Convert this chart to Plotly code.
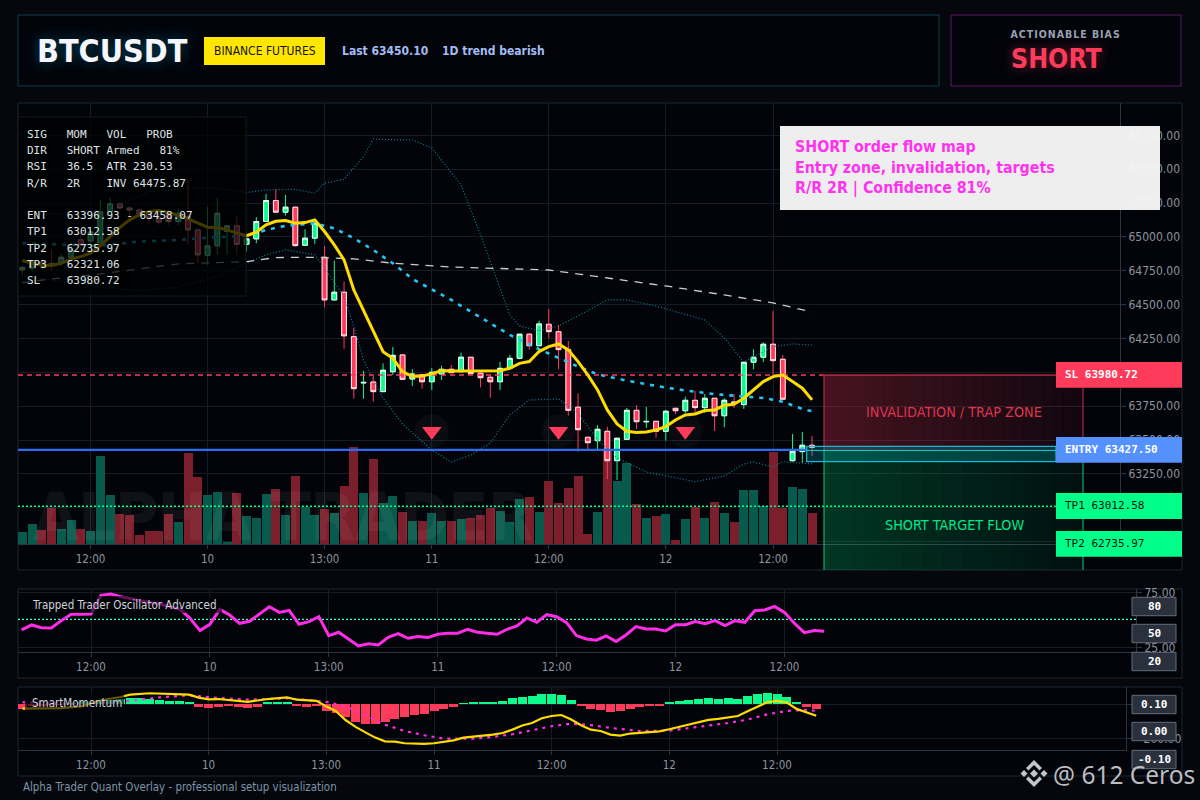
import plotly.graph_objects as go

# ---------- data ----------
open_ = [64757,64771,64815,64805,64806,64850,64978,64970,64956,65187,65244,65214,65199,65170,65140,65175,65114,
         65151,65052,64865,64934,65040,65082,64946,64986,65114,65269,65183,65220,64939,64991,64850,64535,64592,
         64264,63922,63929,63858,64005,64129,63951,63983,63931,63988,64023,64005,64112,63994,63964,63931,64030,
         64104,64282,64197,64355,64301,64168,63743,63521,63496,63565,63348,63506,63720,63635,63639,63565,63735,
         63717,63794,63740,63809,63680,63782,63762,64075,64112,64208,64097,63348,63415,63462]
high = [64785,64830,64840,64911,64870,64960,65050,65060,65273,65288,65255,65222,65210,65190,65180,65200,65212,
        65421,65052,65224,65286,65082,65155,65015,65146,65318,65352,65311,65220,65057,65126,64934,64826,64671,
        64328,64011,63974,64067,64188,64129,64025,63988,64033,64050,64055,64146,64112,64011,63988,64079,64129,
        64282,64289,64382,64468,64350,64232,63846,63521,63612,63599,63514,63737,63759,63745,63639,63723,63735,
        63821,63863,63841,63809,63809,63841,64075,64171,64222,64454,64129,63545,63560,63531]
low = [64720,64750,64770,64750,64790,64830,64900,64920,64930,65187,65205,65140,65150,65100,65090,65089,65089,
       64941,64806,64794,64868,64868,64868,64892,64954,65114,65183,65158,64929,64939,64949,64481,64535,64175,
       63806,63806,63784,63858,63981,63944,63900,63880,63870,63944,63998,64005,63991,63890,63813,63870,64018,
       64097,64166,64197,64252,64023,63680,63415,63432,63432,63213,63206,63506,63582,63590,63518,63496,63693,
       63698,63700,63700,63567,63595,63737,63730,64023,64075,63981,63802,63341,63333,63383]
close = [64775,64815,64793,64790,64850,64904,64941,65037,65185,65244,65214,65199,65170,65140,65110,65114,65175,
         65052,64868,64934,65175,65082,64946,64986,65114,65269,65183,65220,64936,64991,65101,64535,64592,64270,
         63880,63926,63858,64016,64126,63949,63988,63931,64001,64023,63998,64112,63991,63961,63931,64030,64104,
         64282,64197,64358,64301,64168,63720,63577,63481,63580,63348,63514,63720,63636,63638,63565,63713,63717,
         63794,63740,63809,63680,63794,63772,64075,64112,64208,64087,63802,63418,63462,63447]
volume = [36,60,42,108,45,72,45,39,264,147,90,87,27,39,39,90,66,273,201,147,156,6,153,84,78,150,165,87,204,111,
          87,105,93,174,291,153,255,123,144,97,70,70,94,70,70,76,79,88,109,100,67,136,142,97,190,124,169,205,31,
          97,286,190,244,121,79,85,91,13,76,112,79,127,94,67,163,163,115,277,109,172,166,94]
ma_fast = [64826,64806,64789,64789,64806,64836,64855,64880,64934,65003,65069,65126,65163,65188,65195,65180,65160,
           65133,65101,65072,65069,65052,65028,65010,65035,65089,65116,65121,65101,65106,65126,65040,64941,64831,
           64609,64461,64302,64153,64104,64006,63969,63974,63989,64013,64011,64011,64011,64011,64011,64013,64030,
           64067,64080,64154,64190,64210,64166,64080,63981,63871,63723,63620,63565,63556,63560,63575,63600,63649,
           63686,63693,63718,63723,63757,63765,63809,63871,63932,63969,63981,63932,63883,63797]
ema_idx = [0,4,8,12,16,20,23,25,27,30,32,34,36,38,40,44,47,50,53,55,57,59,62,65,68,71,74,76,78,80,81]
ema_val = [64954,64946,64936,64966,64978,64998,65008,65052,65082,65101,65064,64991,64904,64806,64690,64535,64407,
           64277,64171,64104,64043,63986,63939,63900,63866,63839,63821,63811,63784,63730,63713]
slow_idx = [0,3,8,16,23,26,30,34,38,44,54,60,66,72,77,81]
slow_val = [64663,64690,64727,64801,64818,64848,64850,64838,64806,64778,64756,64697,64638,64572,64513,64446]
upper_idx = [0,6,8,11,13,17,20,23,25,28,30,31,33,35,36,40,42,45,47,48,50,51,53,55,57,60,62,65,70,72,74,77,79,81]
upper_val = [65175,65163,65205,65274,65335,65360,65360,65328,65347,65352,65323,65397,65426,65594,65722,65716,65657,
             65384,65015,64815,64424,64343,64306,64343,64417,64535,64535,64490,64387,64254,64077,64190,64210,64202]
lower_idx = [0,3,8,12,16,20,23,25,27,30,31,33,34,35,36,37,39,42,44,46,48,50,52,55,57,59,61,64,69,72,74,75,77,78,81]
lower_val = [64708,64683,64629,64604,64629,64708,64806,64868,64905,64868,64769,64560,64338,64092,63944,63811,63619,
             63427,63339,63390,63479,63686,63796,63804,63700,63501,63368,63265,63193,63235,63324,63339,63302,63341,
             63324]
signal_idx = [42,55,68]
signal_price = [63565,63565,63565]
entry_price = 63427.50
sl_price = 63980.72
tp1_price = 63012.58
tp2_price = 62735.97
osc = [41,45.5,43,42.8,49.4,55.1,55.1,55.4,72.3,73.5,71.1,69.6,67.5,65.6,64.4,62,59.6,51.5,40.4,46.1,59.6,54.5,47,
       48.8,55.1,62,56.9,58.7,46.1,48.5,53,35.9,38.9,32.6,26.5,28.6,27.4,34.4,37.7,33.5,35,34.1,37.1,38,38,41.6,
       38.9,38,37.1,41.6,44.6,51.8,47.9,54.8,53,47.6,35.9,32.9,31.7,35.6,30.5,36.5,44,41.9,41.9,40.1,45.8,45.8,
       48.5,46.7,49.4,44.9,49.4,47.9,58.4,59,62.3,56.9,47,38.6,40.4,39.8]
osc_mid = 50.5
hist = [-31,-10,-6,-4,-2,3,6,10,16,22,30,33,33,31,24,16,16,10,-18,-24,-16,-12,-18,-24,-18,8,8,8,-12,-18,-12,-41,
        -51,-75,-108,-118,-118,-104,-90,-78,-67,-59,-41,-29,-18,2,8,14,14,20,33,43,49,59,59,53,24,-12,-31,-35,
        -47,-41,-29,-18,-12,-6,6,18,24,29,37,29,35,27,47,59,65,59,41,6,-18,-29]
fast_idx = [0,2,4,6,8,10,11,13,15,17,18,19,20,22,23,25,27,28,30,31,32,33,34,35,36,37,38,39,40,41,42,43,44,45,46,47,
            48,49,50,51,52,53,54,55,56,57,58,59,60,61,62,63,64,65,66,67,68,69,70,71,72,73,74,75,76,77,78,79,80,81]
fast_val = [-25,-22,-22,-12,24,43,57,65,63,57,39,29,31,20,14,31,41,27,20,-12,-41,-94,-133,-165,-196,-218,-220,-229,
            -233,-233,-229,-220,-212,-196,-188,-184,-178,-169,-149,-125,-110,-82,-69,-63,-90,-123,-149,-157,-178,
            -184,-172,-167,-163,-159,-147,-133,-116,-104,-92,-86,-76,-69,-41,-16,12,20,10,-27,-47,-67]
sig_idx = [0,6,11,14,17,20,23,27,31,33,35,37,39,41,43,46,48,50,52,54,56,58,60,63,66,69,72,74,76,78,80,81]
sig_val = [12,0,20,41,53,37,27,35,14,-12,-65,-120,-157,-182,-202,-202,-192,-176,-153,-129,-114,-122,-139,-157,
           -155,-133,-110,-90,-59,-39,-33,-39]
time_ticks = [7,19,31,42,54,66,77]
time_labels = ["12:00","10","13:00","11","12:00","12","12:00"]
price_ticks = [62750,63000,63250,63500,63750,64000,64250,64500,64750,65000,65250,65500,65750]
info_lines = ["SIG   MOM   VOL   PROB","DIR   SHORT Armed   81%","RSI   36.5  ATR 230.53","R/R   2R    INV 64475.87",
              "ENT   63396.93 - 63458.07","TP1   63012.58","TP2   62735.97","TP3   62321.06","SL    63980.72"]
info_rows = [134,150,166,183,215,231,248,264,280]

# ---------- style ----------
W, H = 1200, 800
BG = "#05070d"; PANEL = "#02040a"; BORDER = "#1b2635"
GRID = "#161c24"; VGRID = "#0f1f28"; AXIS = "#2b3644"; TICK = "#8d949e"
GREEN = "#0dfb8d"; RED = "#ff3b5c"; VGREEN = "#085a4c"; VRED = "#7b1f2c"
SANS = "DejaVu Sans Condensed, DejaVu Sans"
MONO = "DejaVu Sans Mono"
px = lambda x: x / W
py = lambda y: 1 - y / H

shapes = []
notes = []

def rect(x0, y0, x1, y1, fill="rgba(0,0,0,0)", line="rgba(0,0,0,0)", lw=1, layer="above"):
    shapes.append(dict(type="rect", xref="paper", yref="paper", x0=px(x0), x1=px(x1), y0=py(y0), y1=py(y1),
                       fillcolor=fill, line=dict(color=line, width=lw), layer=layer))

def seg(x0, y0, x1, y1, color, lw=1, dash="solid", layer="above"):
    shapes.append(dict(type="line", xref="paper", yref="paper", x0=px(x0), x1=px(x1), y0=py(y0), y1=py(y1),
                       line=dict(color=color, width=lw, dash=dash), layer=layer))

def note(x, y, text, size, color, family=SANS, anchor="left", bold=False, shadow=None, **kw):
    f = dict(family=family, size=size, color=color)
    if shadow:
        f["shadow"] = shadow
    t = f"<b>{text}</b>" if bold else text
    notes.append(dict(xref="paper", yref="paper", x=px(x), y=py(y), text=t, showarrow=False, font=f,
                      xanchor=anchor, yanchor="middle", align=anchor, borderpad=0, **kw))

def chevron(points, fill):
    path = "M" + "L".join(f"{px(a):.5f},{py(b):.5f}" for a, b in points) + "Z"
    shapes.append(dict(type="path", xref="paper", yref="paper", path=path, fillcolor=fill, line=dict(width=0),
                       layer="above"))

# panels
rect(18, 15, 939, 86, PANEL, "#0d3d4f", 1, "below")
rect(951, 15, 1181, 86, PANEL, "#5f1a63", 1, "below")
rect(18, 103, 1182, 570, PANEL, BORDER, 1, "below")
rect(18, 589, 1182, 678, PANEL, BORDER, 1, "below")
rect(18, 687, 1182, 776, PANEL, BORDER, 1, "below")

# trade zones (gradient strips)
ZX0, ZX1 = 824, 1083
STRIPS = 26
for k in range(STRIPS):
    a = k / STRIPS
    x0 = ZX0 + (ZX1 - ZX0) * k / STRIPS
    x1 = ZX0 + (ZX1 - ZX0) * (k + 1) / STRIPS
    rect(x0, 375, x1, 450, f"rgba(255,59,92,{0.27 - 0.21 * a:.3f})", "rgba(0,0,0,0)", 0)
    rect(x0, 450, x1, 570, f"rgba(0,255,136,{0.20 - 0.15 * a:.3f})", "rgba(0,0,0,0)", 0)
seg(ZX0, 375, ZX0, 450, "#c8324a", 1)
seg(ZX1, 375, ZX1, 450, "#c8324a", 1)
seg(ZX0, 450, ZX0, 570, "#10c878", 1)
seg(ZX1, 450, ZX1, 570, "#10c878", 1)
seg(824, 375, 1056, 375, RED, 1)
rect(806.7, 446.3, 1056, 461.7, "rgba(0,200,210,0.22)", "#18b6d8", 1.3)
seg(806.7, 450.4, 1056, 450.4, "#18d0d8", 1)

# info panel
rect(18, 117, 246, 296, "rgba(0,0,0,0.74)", "#15181c", 1)
for row, line in zip(info_rows, info_lines):
    note(26, row, line.replace(" ", "\u00a0"), 11, "#dfe3e6", MONO)

# order-flow box
rect(780, 126, 1160, 210, "rgba(246,246,246,0.97)")
for row, line in zip([147, 168, 188], ["SHORT order flow map", "Entry zone, invalidation, targets", "R/R 2R | Confidence 81%"]):
    note(794, row, line, 15.8, "#ff33ee", bold=True)

# price labels
for y0, y1, fill, text, col, tx in [(362, 387.7, RED, "SL 63980.72", "#ffffff", 1064),
                                    (437, 462.7, "#5590ff", "ENTRY 63427.50", "#ffffff", 1064),
                                    (493, 519, "#00ff88", "TP1 63012.58", "#04140c", 1064),
                                    (531, 556.7, "#00ff88", "TP2 62735.97", "#04140c", 1064)]:
    rect(1056, y0, 1182, y1, fill)
    note(tx, (y0 + y1) / 2, text, 11, col, MONO, bold=col == "#ffffff")
note(954, 412, "INVALIDATION / TRAP ZONE", 14.3, "#dc3550", anchor="center")
note(954, 525, "SHORT TARGET FLOW", 14.3, "#00e88c", anchor="center", bold=False)

# level boxes
for y0, y1, label in [(597.3, 615.7, "80"), (624.3, 642.7, "50"), (652.3, 670.7, "20"),
                      (695.3, 713.7, "0.10"), (722.3, 740.7, "0.00"), (750.3, 768.7, "-0.10")]:
    rect(1132, y0, 1176, y1, "#2a313c", "#626c78", 1)
    note(1154, (y0 + y1) / 2, label, 11, "#ffffff", MONO, anchor="center", bold=True)

# pane labels
rect(25, 596, 222, 613, "rgba(2,4,10,0.62)")
note(31, 605, "Trapped Trader Oscillator Advanced", 11.5, "#cfd3d8")
rect(25, 694, 124, 712, "rgba(2,4,10,0.62)")
note(31, 703, "SmartMomentum", 11.5, "#cfd3d8")

# header
note(36, 51, "BTCUSDT", 32, "#f4f6fb", bold=True, shadow="0 0 14px rgba(0,200,255,0.35)")
rect(204, 37, 325, 65, "#ffe600")
note(264.5, 51, "BINANCE FUTURES", 12, "#15130a", anchor="center")
note(341, 51, "Last 63450.10", 12, "#a4bcf2", bold=True)
note(441, 51, "1D trend bearish", 12, "#a4bcf2", bold=True)
note(1065.5, 34, "ACTIONABLE BIAS", 10.5, "#98a2b2", anchor="center", bold=True)
note(1057, 59, "SHORT", 26.5, RED, anchor="center", bold=True, shadow="0 0 12px rgba(255,59,92,0.45)")

# footer + corner mark
note(22, 787, "Alpha Trader Quant Overlay - professional setup visualization", 11.4, "#7b95a6")
note(1052, 774, "@ 612 Ceros", 24.5, "#b9bdc2", "Noto Sans")
cx, cy = 1034, 773.5
MARK = "#c3c7cb"
chevron([(cx, cy - 4), (cx + 4, cy), (cx, cy + 4), (cx - 4, cy)], MARK)
chevron([(cx - 13.5, cy), (cx - 10, cy - 3.5), (cx - 6.5, cy), (cx - 10, cy + 3.5)], MARK)
chevron([(cx + 13.5, cy), (cx + 10, cy - 3.5), (cx + 6.5, cy), (cx + 10, cy + 3.5)], MARK)
chevron([(cx, cy - 13.5), (cx + 8, cy - 5.5), (cx + 5.5, cy - 3), (cx, cy - 8.5), (cx - 5.5, cy - 3), (cx - 8, cy - 5.5)], MARK)
chevron([(cx, cy + 13.5), (cx + 8, cy + 5.5), (cx + 5.5, cy + 3), (cx, cy + 8.5), (cx - 5.5, cy + 3), (cx - 8, cy + 5.5)], MARK)

# faint background word over the volume bars
note(282, 517, "ALPHA TRADER", 66, "rgba(255,255,255,0.055)", anchor="center", bold=True)

# ---------- traces ----------
idx = list(range(len(open_)))
vol_colors = [VGREEN if c >= o else VRED for o, c in zip(open_, close)]
hist_colors = [GREEN if v >= 0 else RED for v in hist]
body_high = [max(o, c) for o, c in zip(open_, close)]
body_low = [min(o, c) for o, c in zip(open_, close)]

fig = go.Figure()
fig.add_bar(x=idx, y=volume, marker=dict(color=vol_colors, line=dict(width=0)), width=0.92, xaxis="x", yaxis="y",
            showlegend=False)

def line(x, y, color, width, dash="solid", xa="x", ya="y2"):
    fig.add_scatter(x=x, y=y, mode="lines", line=dict(color=color, width=width, dash=dash), xaxis=xa, yaxis=ya,
                    showlegend=False)

MX_LEFT, MX_ZONE, MX_LABEL = -0.441, 80.4, 106.0
line(upper_idx, upper_val, "#127f96", 1.2, "1px,2px")
line(lower_idx, lower_val, "#127f96", 1.2, "1px,2px")
line(slow_idx, slow_val, "#c9cdd2", 1.3, "8px,7px")
line(ema_idx, ema_val, "#22c8f2", 2.6, "4px,6px")
line([MX_LEFT, MX_ZONE], [entry_price, entry_price], "#2b6cf0", 2.2)
line([MX_LEFT, 82.2], [sl_price, sl_price], RED, 1.6, "5px,4px")
line([MX_LEFT, MX_LABEL], [tp1_price, tp1_price], "#00ff88", 1.5, "2px,2px")

fig.add_candlestick(x=idx, open=open_, high=high, low=low, close=close, xaxis="x", yaxis="y2", showlegend=False,
                    increasing=dict(line=dict(color=GREEN, width=1), fillcolor=GREEN),
                    decreasing=dict(line=dict(color=RED, width=1), fillcolor=RED))
fig.add_candlestick(x=idx, open=open_, high=body_high, low=body_low, close=close, xaxis="x", yaxis="y2",
                    showlegend=False,
                    increasing=dict(line=dict(color="#f2fff8", width=1), fillcolor=GREEN),
                    decreasing=dict(line=dict(color="#ffe8ec", width=1), fillcolor=RED))
line(idx, ma_fast, "#ffdc00", 3)
fig.add_scatter(x=signal_idx, y=signal_price, mode="markers", xaxis="x", yaxis="y2", showlegend=False,
                marker=dict(symbol="circle", size=34, color="rgba(255,255,255,0.03)", line=dict(width=0)))
fig.add_scatter(x=signal_idx, y=signal_price, mode="markers", xaxis="x", yaxis="y2", showlegend=False,
                marker=dict(symbol="triangle-down", size=17, color=RED, line=dict(width=0)))

# oscillator
line([-0.368, 112.48], [osc_mid, osc_mid], "#3dffc0", 1.2, "2px,2px", "x2", "y3")
line(idx, osc, "#ff2ee6", 3, "solid", "x2", "y3")

# momentum
fig.add_bar(x=idx, y=hist, marker=dict(color=hist_colors, line=dict(width=0)), width=0.92, xaxis="x3", yaxis="y4",
            showlegend=False)
line(sig_idx, sig_val, "#ff2ee6", 2.2, "3px,5px", "x3", "y4")
line(fast_idx, fast_val, "#ffdc00", 2.2, "solid", "x3", "y4")

def xaxis(rng, x1, y0, anchor):
    return dict(domain=[px(18), px(x1)], range=rng, anchor=anchor, tickmode="array", tickvals=time_ticks,
                ticktext=time_labels, showgrid=True, gridcolor=VGRID, gridwidth=1, zeroline=False, automargin=False,
                showline=True, linecolor=AXIS, linewidth=1.2, ticks="outside", ticklen=4, tickcolor=AXIS,
                tickfont=dict(family=SANS, size=11.5, color=TICK), rangeslider=dict(visible=False), fixedrange=True)

def yaxis(top, bottom, rng, vals, **kw):
    d = dict(domain=[py(bottom), py(top)], range=rng, side="right", tickmode="array", tickvals=vals,
             tickformat=".2f", showgrid=True, gridcolor=GRID, gridwidth=1, zeroline=False, showline=True,
             linecolor=AXIS, linewidth=1.2, ticks="outside", ticklen=5, tickcolor=AXIS, automargin=False,
             tickfont=dict(family=SANS, size=12, color=TICK), fixedrange=True)
    d.update(kw)
    return d

fig.update_layout(
    width=W, height=H, margin=dict(l=0, r=0, t=0, b=0, pad=0, autoexpand=False), autosize=False, showlegend=False,
    paper_bgcolor=BG, plot_bgcolor="rgba(0,0,0,0)", bargap=0, hovermode=False,
    shapes=shapes, annotations=notes,
    xaxis=xaxis([-0.441, 112.584], 1120, 544, "y"),
    xaxis2=xaxis([-0.368, 112.48], 1136, 652, "y3"),
    xaxis3=xaxis([-0.449, 112.61], 1126, 750, "y4"),
    yaxis=dict(domain=[py(544), py(103)], range=[0, 1323], visible=False, fixedrange=True, anchor="x", automargin=False),
    yaxis2=yaxis(103, 544, [62733, 65989], price_ticks, overlaying="y", anchor="x"),
    yaxis3=yaxis(589, 652.3, [20.8, 78], [25, 75], anchor="x2"),
    yaxis4=yaxis(687.3, 750.3, [-270.6, 100], [-200, 0], anchor="x3"),
)

POST = """
document.documentElement.style.margin='0';
document.body.style.margin='0';
document.body.style.background='#05070d';
document.body.style.overflow='hidden';
document.querySelectorAll('.annotation-text').forEach(function(t){
  if(t.textContent==='ACTIONABLE BIAS'){t.style.letterSpacing='1px';}
  if(t.textContent==='ALPHA TRADER'){t.style.letterSpacing='-1px';}
});
"""
fig.write_html("out.html", post_script=POST, config=dict(displayModeBar=False, responsive=False))
